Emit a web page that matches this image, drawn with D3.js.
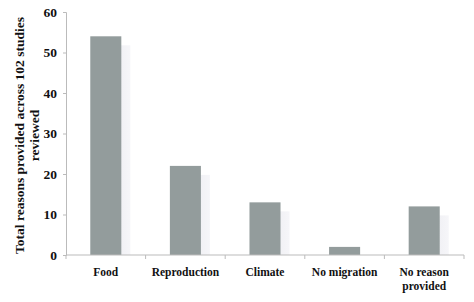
<!DOCTYPE html>
<html>
<head>
<meta charset="utf-8">
<script src="https://d3js.org/d3.v7.min.js"></script>
<style>
  body { margin: 0; background: #fff; }
  text { font-family: "Liberation Serif", "Times New Roman", serif; font-weight: bold; fill: #111; }
</style>
</head>
<body>
<svg id="chart" width="474" height="302"></svg>
<script>
var categories = ["Food", "Reproduction", "Climate", "No migration", "No reason provided"];
var labelLines = [["Food"], ["Reproduction"], ["Climate"], ["No migration"], ["No reason", "provided"]];
var values = [54, 22, 13, 2, 12];
var yTicks = [0, 10, 20, 30, 40, 50, 60];

var svg = d3.select("#chart");
var margin = { top: 12, right: 10, bottom: 47, left: 66 };
var width = 474 - margin.left - margin.right,
    height = 302 - margin.top - margin.bottom;

var defs = svg.append("defs");
var grad = defs.append("linearGradient").attr("id", "shade").attr("x1", 0).attr("x2", 1).attr("y1", 0).attr("y2", 0);
grad.append("stop").attr("offset", "0%").attr("stop-color", "#e6e6ec");
grad.append("stop").attr("offset", "100%").attr("stop-color", "#f6f6f9");

var g = svg.append("g").attr("transform", "translate(" + margin.left + "," + margin.top + ")");

var x = d3.scaleBand().domain(categories).range([0, width]).paddingInner(0.61).paddingOuter(0.305);
var y = d3.scaleLinear().domain([0, 60]).range([height, 0]);

// shadows
g.selectAll(".shadow").data(values).enter().append("rect")
  .attr("class", "shadow")
  .attr("x", function (d, i) { return x(categories[i]) + 9; })
  .attr("y", function (d) { return y(d) + 9; })
  .attr("width", x.bandwidth())
  .attr("height", function (d) { return Math.max(0, height - y(d) - 9); })
  .attr("fill", "url(#shade)");

g.selectAll(".bar").data(values).enter().append("rect")
  .attr("class", "bar")
  .attr("x", function (d, i) { return x(categories[i]); })
  .attr("y", function (d) { return y(d); })
  .attr("width", x.bandwidth())
  .attr("height", function (d) { return height - y(d); })
  .attr("fill", "#939c9c");

// y axis
var yAxis = g.append("g").call(d3.axisLeft(y).tickValues(yTicks).tickSize(3).tickPadding(6));
yAxis.select(".domain").attr("stroke", "#bbb");
yAxis.selectAll(".tick line").attr("stroke", "#bbb");
yAxis.selectAll(".tick text").attr("font-size", 13.5).attr("font-family", "Liberation Serif").attr("font-weight", "bold").attr("fill", "#111");

// x axis
var xAxis = g.append("g").attr("transform", "translate(0," + height + ")");
xAxis.append("line").attr("x1", 0).attr("x2", width).attr("stroke", "#bbb");
var step = width / categories.length;
xAxis.selectAll(".xtick").data(d3.range(categories.length + 1)).enter().append("line")
  .attr("x1", function (i) { return i * step; })
  .attr("x2", function (i) { return i * step; })
  .attr("y1", 0).attr("y2", 4).attr("stroke", "#bbb");

var lbl = xAxis.selectAll(".xlabel").data(categories).enter().append("text")
  .attr("class", "xlabel")
  .attr("text-anchor", "middle")
  .attr("font-size", 11.5)
  .attr("transform", function (d) { return "translate(" + (x(d) + x.bandwidth() / 2) + ",21)"; });
lbl.selectAll("tspan").data(function (d, i) { return labelLines[i]; }).enter().append("tspan")
  .attr("x", 0).attr("dy", function (d, i) { return i === 0 ? 0 : 14; })
  .text(function (d) { return d; });

// y title
var title = svg.append("text")
  .attr("text-anchor", "middle")
  .attr("font-size", 13.5)
  .attr("transform", "translate(24," + (margin.top + height / 2 + 2) + ") rotate(-90)");
title.append("tspan").attr("x", 0).attr("dy", 0).text("Total reasons provided across 102 studies");
title.append("tspan").attr("x", 0).attr("dy", 15).text("reviewed");
</script>
</body>
</html>
